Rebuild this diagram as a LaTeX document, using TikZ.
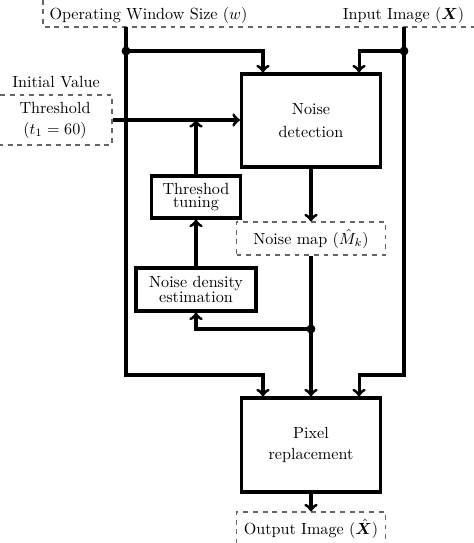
\documentclass[tikz,border=0pt]{standalone}
\usepackage{amsmath}
\usepackage{amssymb}
\usepackage{bm}
\usepackage{tikz}
\usetikzlibrary{positioning,calc}
\tikzset{
	blk/.style={draw,line width=1.9pt,align=center,inner sep=2pt},
	io/.style={draw=black!60,dashed,line width=0.7pt,align=center},
	wire/.style={line width=1.9pt},
	arr/.style={wire,->},
	jdot/.style={circle,fill,inner sep=0pt,minimum size=5.5pt}
}
\def\px{0.62pt}

\begin{document}
\begin{tikzpicture}[x=0.62pt,y=-0.62pt]
\useasboundingbox (0,0) rectangle (474,543);
\clip (0,0) rectangle (474,543);

%Entrees
\draw[io] (43,-10) rectangle (480,27);
\node[anchor=base] (win) at (148.5,19) {Operating Window Size ($w$)};
\node[anchor=base] (img) at (403.5,19) {Input Image ($\bm{X}$)};

\node[io,minimum width=114*\px,minimum height=50*\px] (thr) at (55,120) {Threshold\\[1pt]($t_1=60$)};
\node (ini) at (56,82) {Initial Value};

%Blocs
\node[blk,minimum width=139*\px,minimum height=93*\px] (det) at (311,120.5) {Noise\\[2.5pt]detection};
\node[blk,minimum width=89*\px,minimum height=42*\px] (tun) at (196,197) {Threshod\\[-3.5pt]tuning};
\node[io,minimum width=149*\px,minimum height=33*\px] (map) at (311,238.5) {Noise map ($\hat{M}_k$)};
\node[blk,minimum width=120*\px,minimum height=43*\px] (nde) at (196,289.5) {Noise density\\[-3pt]estimation};
\node[blk,minimum width=139*\px,minimum height=94*\px] (pix) at (311,445) {Pixel\\[1pt]replacement};
\node[io,minimum width=149*\px,minimum height=33*\px] (out) at (311,528.5) {Output Image ($\hat{\bm{X}}$)};

%Points de branchement
\coordinate (wtop) at (126,27);
\coordinate (wdot) at (126,51);
\coordinate (wbot) at (126,375);
\coordinate (xtop) at (404,27);
\coordinate (xdot) at (404,51);
\coordinate (xbot) at (404,375);
\coordinate (mdot) at (311,329);

%Fleches
\draw[arr] (wtop) -- (wbot) -| ([xshift=23*\px]pix.north west);
\draw[arr] (xtop) -- (xbot) -| ([xshift=-23*\px]pix.north east);
\draw[arr] (wdot) -| ([xshift=23*\px]det.north west);
\draw[arr] (xdot) -| ([xshift=-23*\px]det.north east);
\draw[arr] (thr.east) -- (thr.east -| det.west);
\draw[arr] (tun.north) -- (tun.north |- thr.east);
\draw[arr] (det) -- (map);
\draw[wire] (map) -- (mdot);
\draw[arr] (mdot) -- (pix);
\draw[arr] (mdot) -| (nde.south);
\draw[arr] (nde) -- (tun);
\draw[arr] (pix) -- (out);

\foreach \p in {wdot,xdot,mdot} {
	\node[jdot] at (\p) {};
}

\end{tikzpicture}
\end{document}
